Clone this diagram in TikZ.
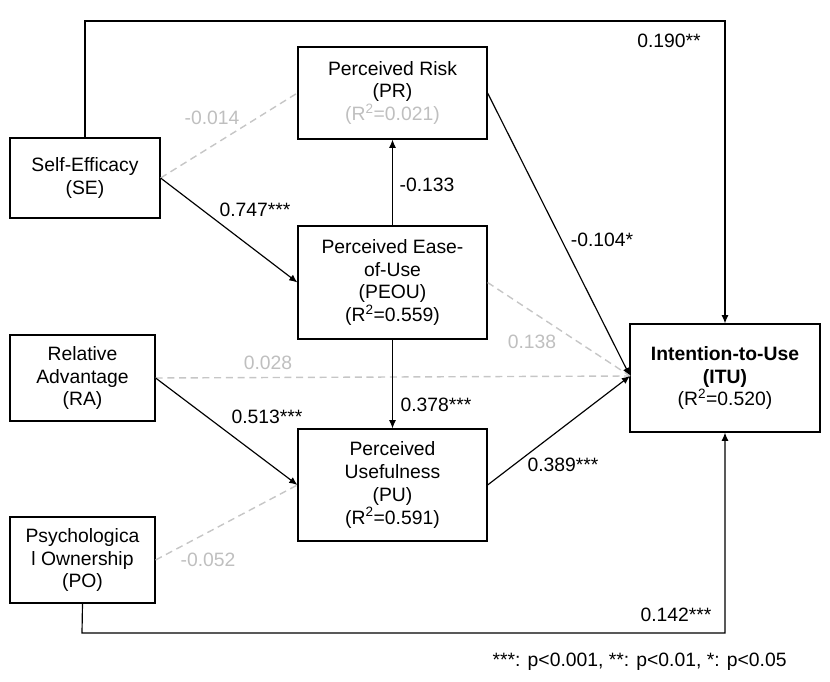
\documentclass[tikz,border=0pt]{standalone}
\usepackage{fontspec}
\setmainfont{Liberation Sans}
\usetikzlibrary{arrows.meta}
\begin{document}
\begin{tikzpicture}[x=0.03cm,y=-0.03cm,font=\fontsize{16.5}{19.5}\selectfont,
 box/.style={draw,line width=1pt,align=center,inner sep=0pt},
 arr/.style={-{Latex[length=7pt,width=6pt]},line width=1pt},
 dsh/.style={dashed,dash pattern=on 6pt off 4pt,gray!45,line width=1.2pt},
 lab/.style={inner sep=1pt},
 glab/.style={inner sep=1pt,text=gray!50}]
\useasboundingbox (0,0) rectangle (830,682);
\node[box,minimum width=150*0.03cm,minimum height=80*0.03cm] (SE) at (85,178) {Self-Efficacy\\(SE)};
\node[box,minimum width=189*0.03cm,minimum height=92*0.03cm] (PR) at (392.5,93) {Perceived Risk\\(PR)\\\textcolor{gray!50}{(R\textsuperscript{2}=0.021)}};
\node[box,minimum width=189*0.03cm,minimum height=113*0.03cm] (PEOU) at (392.5,282.5) {Perceived Ease-\\of-Use\\(PEOU)\\(R\textsuperscript{2}=0.559)};
\node[box,minimum width=145*0.03cm,minimum height=86*0.03cm] (RA) at (82.5,378) {Relative\\Advantage\\(RA)};
\node[box,minimum width=189*0.03cm,minimum height=112*0.03cm] (PU) at (392.5,485) {Perceived\\Usefulness\\(PU)\\(R\textsuperscript{2}=0.591)};
\node[box,minimum width=145*0.03cm,minimum height=86*0.03cm] (PO) at (82.5,560) {Psychologica\\l Ownership\\(PO)};
\node[box,minimum width=190*0.03cm,minimum height=108*0.03cm] (ITU) at (725,378) {\textbf{Intention-to-Use}\\\textbf{(ITU)}\\(R\textsuperscript{2}=0.520)};
\coordinate (a1) at (85,21); \coordinate (a2) at (725,21);
\coordinate (b1) at (82,633); \coordinate (b2) at (725,633);
\coordinate (it) at (630,376);
\draw[arr] (SE.north) -- (a1) -- (a2) -- (ITU.north);
\draw[arr] (PO.south) -- (b1) -- (b2) -- (ITU.south);
\draw[dsh] (SE.east) -- (PR.west);
\draw[arr] (SE.east) -- (PEOU.west);
\draw[arr] (PEOU.north) -- (PR.south);
\draw[arr] (PR.east) -- (it);
\draw[dsh] (PEOU.east) -- (it);
\draw[dsh] (RA.east) -- (it);
\draw[arr] (RA.east) -- (PU.west);
\draw[arr] (PEOU.south) -- (PU.north);
\draw[arr] (PU.east) -- (it);
\draw[dsh] (PO.east) -- (PU.west);
\node[lab] (l1) at (669,41) {0.190**};
\node[lab] (l2) at (676,615) {0.142***};
\node[glab] (l3) at (212,118) {-0.014};
\node[lab] (l4) at (255,210) {0.747***};
\node[lab] (l5) at (427,185) {-0.133};
\node[lab] (l6) at (602,240) {-0.104*};
\node[glab] (l7) at (532,342) {0.138};
\node[glab] (l8) at (268,363) {0.028};
\node[lab] (l9) at (267,417) {0.513***};
\node[lab] (l10) at (436,405) {0.378***};
\node[lab] (l11) at (563,465) {0.389***};
\node[glab] (l12) at (208,560) {-0.052};
\node[lab,anchor=east] (fn) at (788,662) {***: p<0.001, **: p<0.01, *: p<0.05};
\end{tikzpicture}
\end{document}
